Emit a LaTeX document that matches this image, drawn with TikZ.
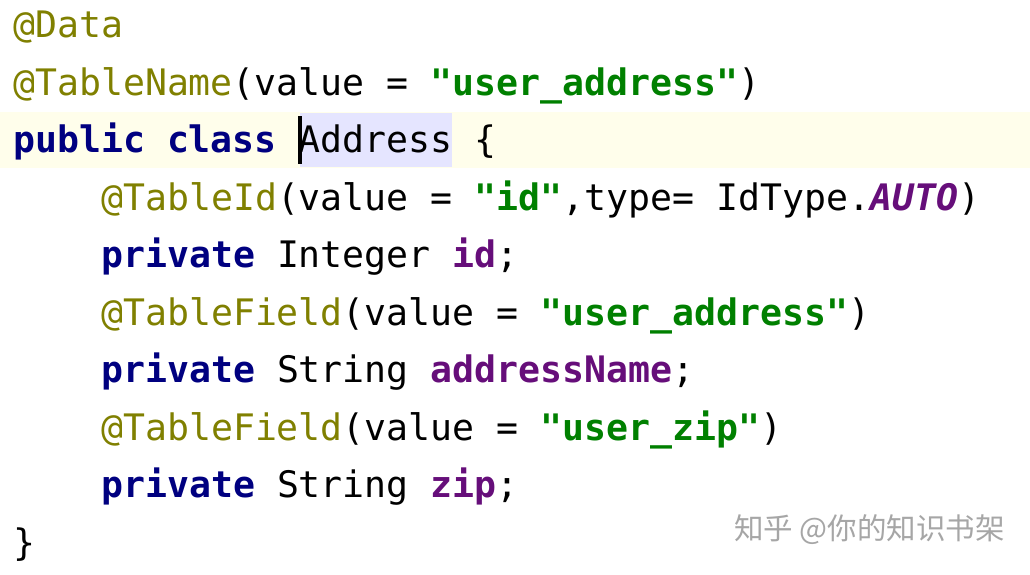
\documentclass[tikz,border=0pt]{standalone}
\usepackage{fontspec}
\setmonofont{DejaVu Sans Mono}
\newfontfamily\cjk{Noto Sans CJK SC}
\definecolor{anno}{HTML}{808000}
\definecolor{kwc}{HTML}{000080}
\definecolor{strc}{HTML}{008000}
\definecolor{fldc}{HTML}{660E7A}
\newcommand{\an}[1]{\textcolor{anno}{#1}}
\newcommand{\kw}[1]{\textcolor{kwc}{\bfseries #1}}
\newcommand{\st}[1]{\textcolor{strc}{\bfseries #1}}
\newcommand{\fd}[1]{\textcolor{fldc}{\bfseries #1}}
\begin{document}
\begin{tikzpicture}[x=1pt,y=-1pt,
  code/.style={anchor=base west,inner sep=0pt,font=\ttfamily\fontsize{36.5}{40}\selectfont}]
\useasboundingbox (0,0) rectangle (1030,574);
\fill[white] (0,0) rectangle (1030,574);
\fill[yellow!8] (0,112) rectangle (1030,168);
\fill[blue!10] (300,113) rectangle (452,167);
\node[code] (l1) at (13,37) {\an{@Data}};
\node[code] (l2) at (13,95) {\an{@TableName}(value = \st{"user\_address"})};
\node[code] (l3) at (13,152) {\kw{public class} Address \{};
\fill[black] (298,116) rectangle (302,164);
\node[code] (l4) at (101,210) {\an{@TableId}(value = \st{"id"},type= IdType.\fd{\itshape AUTO})};
\node[code] (l5) at (101,267) {\kw{private} Integer \fd{id};};
\node[code] (l6) at (101,325) {\an{@TableField}(value = \st{"user\_address"})};
\node[code] (l7) at (101,382) {\kw{private} String \fd{addressName};};
\node[code] (l8) at (101,440) {\an{@TableField}(value = \st{"user\_zip"})};
\node[code] (l9) at (101,497) {\kw{private} String \fd{zip};};
\node[code] (l10) at (13,555) {\}};
\node[anchor=east,inner sep=0pt,text=gray!70,font=\cjk\fontsize{29.5}{32}\selectfont] (wm) at (1005,530) {知乎 @你的知识书架};
\end{tikzpicture}
\end{document}
